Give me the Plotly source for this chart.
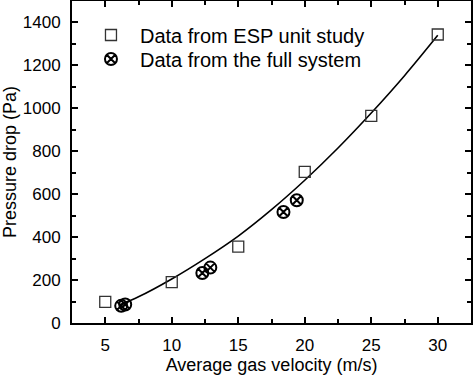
import plotly.graph_objects as go

esp_x = [5, 10, 15, 20, 25, 30]
esp_y = [98, 190, 356, 704, 965, 1344]

full_x = [6.2, 6.5, 12.3, 12.9, 18.4, 19.4]
full_y = [80, 86, 233, 258, 517, 572]

fit_x = [6.2, 7.5, 10, 12.5, 15, 17.5, 20, 22.5, 25, 27.5, 30]
fit_y = [88, 122, 205, 300, 405, 528, 665, 815, 978, 1152, 1340]

x_ticks = [5, 10, 15, 20, 25, 30]
y_ticks = [0, 200, 400, 600, 800, 1000, 1200, 1400]

FONT = "Liberation Sans, Arial, Helvetica, sans-serif"

fig = go.Figure()
fig.add_trace(go.Scatter(x=fit_x, y=fit_y, mode="lines", line=dict(color="black", width=1.6, shape="spline"),
                         showlegend=False, hoverinfo="skip"))
fig.add_trace(go.Scatter(x=esp_x, y=esp_y, mode="markers", name="Data from ESP unit study", legend="legend",
                         marker=dict(symbol="square-open", size=11, color="#333", line=dict(width=1.3, color="#333"))))
fig.add_trace(go.Scatter(x=full_x, y=full_y, mode="markers", name="Data from the full system", legend="legend2",
                         marker=dict(symbol="circle-x-open", size=12, color="black", line=dict(width=2, color="black"))))

axis_common = dict(showline=True, linecolor="black", linewidth=2, mirror="ticks", ticks="inside",
                   tickcolor="black", tickwidth=1.5, ticklen=6, showgrid=False, zeroline=False,
                   automargin=False,
                   tickfont=dict(family=FONT, size=17, color="black"),
                   minor=dict(ticks="inside", ticklen=4, tickwidth=1.5, tickcolor="black"))

fig.update_xaxes(range=[2.5, 32.5], tickvals=x_ticks, ticklabelstandoff=6,
                 title=dict(text="Average gas velocity (m/s)", font=dict(family=FONT, size=18, color="black"), standoff=4),
                 **axis_common)
fig.update_xaxes(minor_dtick=2.5, minor_tick0=2.5)
fig.update_yaxes(range=[0, 1500], tickvals=y_ticks, ticklabelstandoff=6,
                 title=dict(text="Pressure drop (Pa)", font=dict(family=FONT, size=18, color="black"), standoff=4),
                 **axis_common)
fig.update_yaxes(minor_dtick=100, minor_tick0=0)

legend_style = dict(xanchor="left", yanchor="top", bgcolor="rgba(0,0,0,0)",
                    font=dict(family=FONT, size=20, color="black"), itemwidth=48, tracegroupgap=0)

fig.update_layout(
    width=474, height=379,
    margin=dict(l=72, r=3, t=1, b=56, autoexpand=False),
    paper_bgcolor="white", plot_bgcolor="white",
    font=dict(family=FONT, color="black"),
    legend=dict(x=0.025, y=0.955, **legend_style),
    legend2=dict(x=0.025, y=0.8805, **legend_style),
)

fig.write_html("out.html", config={"displayModeBar": False},
               post_script="document.body.style.margin='0';document.body.style.padding='0';document.body.style.overflow='hidden';")
